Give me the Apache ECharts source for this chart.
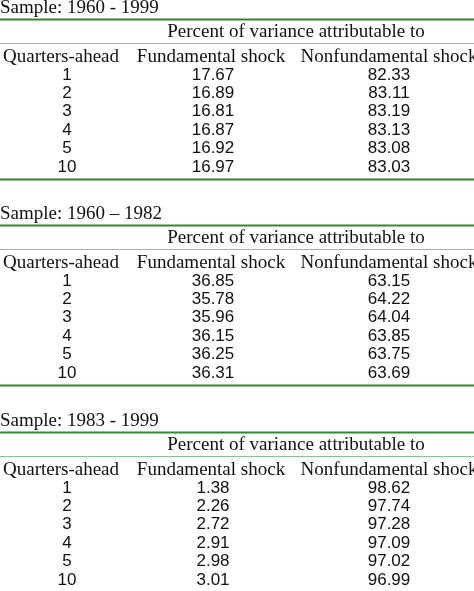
<!DOCTYPE html>
<html><head><meta charset="utf-8">
<script src="https://cdn.jsdelivr.net/npm/echarts@6/dist/echarts.min.js"></script>
<style>html,body{margin:0;padding:0;background:#fff}#c{width:474px;height:591px}</style>
</head><body><div id="c"></div>
<script>
const sampleTitles = ["Sample: 1960 - 1999", "Sample: 1960 \u2013 1982", "Sample: 1983 - 1999"];
const quarters = ["1", "2", "3", "4", "5", "10"];
const fundamental1 = ["17.67", "16.89", "16.81", "16.87", "16.92", "16.97"];
const nonfundamental1 = ["82.33", "83.11", "83.19", "83.13", "83.08", "83.03"];
const fundamental2 = ["36.85", "35.78", "35.96", "36.15", "36.25", "36.31"];
const nonfundamental2 = ["63.15", "64.22", "64.04", "63.85", "63.75", "63.69"];
const fundamental3 = ["1.38", "2.26", "2.72", "2.91", "2.98", "3.01"];
const nonfundamental3 = ["98.62", "97.74", "97.28", "97.09", "97.02", "96.99"];
const spanHeader = "Percent of variance attributable to";
const colHeaders = ["Quarters-ahead", "Fundamental shock", "Nonfundamental shock"];

const fund = [fundamental1, fundamental2, fundamental3];
const nonf = [nonfundamental1, nonfundamental2, nonfundamental3];
const serif = "'Liberation Serif','Times New Roman',serif";
const sans = "'Liberation Sans',Arial,sans-serif";
const green = "#2f8a2f", lightGreen = "#8cc48c";
const colX = [61, 211, 385];
const els = [];
function txt(x, y, s, font, size, align) {
  els.push({type:'text', x:x, y:y, style:{text:s, fill:'#111', font:size+'px '+font, align:align||'center', verticalAlign:'middle'}});
}
function line(y, w, c) {
  els.push({type:'line', shape:{x1:0,y1:y,x2:474,y2:y}, style:{stroke:c, lineWidth:w}});
}
const offs = [0, 206, 413];
for (let s = 0; s < 3; s++) {
  const o = offs[s];
  txt(0, o + 8, sampleTitles[s], serif, 19, 'left');
  line(o + 19.5, 2, green);
  txt(296, o + 32, spanHeader, serif, 19);
  line(o + 43.5, 1.2, lightGreen);
  for (let c = 0; c < 3; c++) txt(colX[c] + (c==2?4:0), o + 57, colHeaders[c], serif, 19);
  for (let r = 0; r < quarters.length; r++) {
    const y = o + 75 + r * 18.4;
    txt(colX[0] + 6, y, quarters[r], sans, 17);
    txt(colX[1] + 2, y, fund[s][r], sans, 17);
    txt(colX[2] + 4, y, nonf[s][r], sans, 17);
  }
  line(o + 179.5, 2, green);
}
const chart = echarts.init(document.getElementById('c'));
chart.setOption({animation:false, graphic:{elements:els}});
</script></body></html>
